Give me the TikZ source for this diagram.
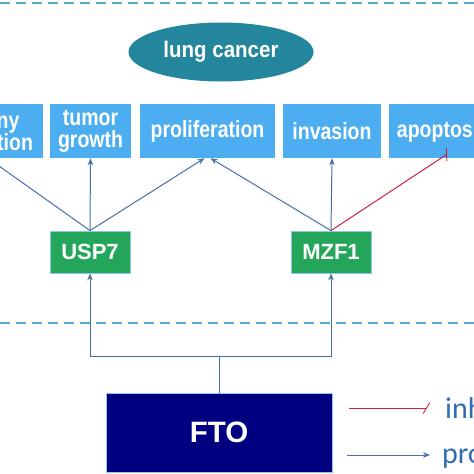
\documentclass[tikz,border=0pt]{standalone}
\usepackage{fontspec}
\setmainfont{Liberation Sans}
\newfontfamily\legendfont{Carlito}
\usepackage{tikz}
\usetikzlibrary{shapes.geometric, arrows.meta, positioning}
\definecolor{cancerteal}{RGB}{36, 134, 156}
\definecolor{effectblue}{RGB}{76, 173, 240}
\definecolor{mediatorgreen}{RGB}{35, 166, 89}
\definecolor{ftonavy}{RGB}{0, 0, 128}
\definecolor{linkblue}{RGB}{68, 114, 168}
\definecolor{inhibitred}{RGB}{208, 32, 60}
\definecolor{legendblue}{RGB}{46, 110, 180}
\definecolor{dashteal}{RGB}{86, 170, 200}
\definecolor{edgelight}{RGB}{140, 200, 235}
% taller lettering as in the figure
\newcommand{\tall}[1]{\scalebox{1}[1.2]{#1}}
\tikzset{
  disease/.style={ellipse, minimum width=185pt, minimum height=59pt,
    inner sep=0pt, fill=cancerteal, text=white,
    font=\fontsize{20.5}{24}\selectfont\bfseries},
  effect/.style={rectangle, minimum height=54pt, inner sep=0pt,
    align=center, fill=effectblue, text=white,
    font=\fontsize{19.5}{22}\selectfont\bfseries},
  mediator/.style={rectangle, minimum width=80pt, minimum height=42pt,
    inner sep=0pt, fill=mediatorgreen, draw=edgelight, line width=0.8pt,
    text=white, font=\fontsize{22}{26}\selectfont\bfseries},
  gene/.style={rectangle, minimum width=226pt, minimum height=79pt,
    inner sep=0pt, fill=ftonavy, draw=edgelight, line width=1pt,
    text=white, font=\fontsize{29.5}{34}\selectfont\bfseries},
  legendtext/.style={text=legendblue, inner sep=0pt,
    font=\fontsize{30}{34}\legendfont},
  link/.style={color=linkblue, line width=1pt},
  arrow/.style={link, -{Stealth[length=7pt,width=5.5pt]}},
  inhibit/.style={color=inhibitred, line width=1pt,
    -{Bar[width=11pt,slant=0.6]}},
  divider/.style={dashed, dash pattern=on 10pt off 6pt, line width=1.5pt}
}
\begin{document}
\begin{tikzpicture}[x=1pt, y=-1pt]
\useasboundingbox (0,0) rectangle (474,474);
\clip (0,0) rectangle (474,474);
\fill[white] (0,0) rectangle (474,474);

% dividers
\draw[divider, dashteal] (0,3) -- (474,3);
\draw[divider, dashteal!70!effectblue] (0,323) -- (474,323);

% disease and effects
\node (cancer)    [disease] at (221,52) {\scalebox{1}[1.1]{lung cancer}};
\node (colony)    [effect, minimum width=110pt] at (-12,131) {\tall{colony}\\\tall{formation}};
\node (tumor)     [effect, minimum width=81pt]  at (90.5,131) {\tall{tumor}\\\tall{growth}};
\node (prolif)    [effect, minimum width=135pt] at (207.5,131) {\tall{proliferation}};
\node (invasion)  [effect, minimum width=98pt]  at (332,131) {\tall{invasion}};
\node (apoptosis) [effect, minimum width=108pt] at (443,131) {\tall{apoptosis}};

% mediators and FTO
\node (usp7) [mediator] at (90,252)  {USP7};
\node (mzf1) [mediator] at (331,252) {MZF1};
\node (fto)  [gene]     at (219,432.5) {FTO};

\coordinate (fork) at (fto.north |- 0,356);
\draw[link]  (fto.north) -- (fork);
\draw[arrow] (fork) -| (usp7.south);
\draw[arrow] (fork) -| (mzf1.south);

\draw[arrow] (usp7.north) -- (colony.south);
\draw[arrow] (usp7.north) -- (tumor.south);
\draw[arrow] (usp7.north) -- ([xshift=-3pt]prolif.south);
\draw[arrow] (mzf1.north) -- ([xshift=3pt]prolif.south);
\draw[arrow] (mzf1.north) -- (invasion.south);
\draw[inhibit] (mzf1.north) -- ([xshift=4pt,yshift=4pt]apoptosis.south);

% legend
\node (inhtxt) [legendtext, anchor=base west] at (445,418) {inhibition};
\node (protxt) [legendtext, anchor=base west] at (442,463) {promotion};
\coordinate (inhstart) at (349,408);
\coordinate (inhend)   at (427,408);
\coordinate (prostart) at (347,455);
\coordinate (proend)   at (430,455);
\draw[inhibit] (inhstart) -- (inhend);
\draw[arrow]   (prostart) -- (proend);
\end{tikzpicture}
\end{document}
